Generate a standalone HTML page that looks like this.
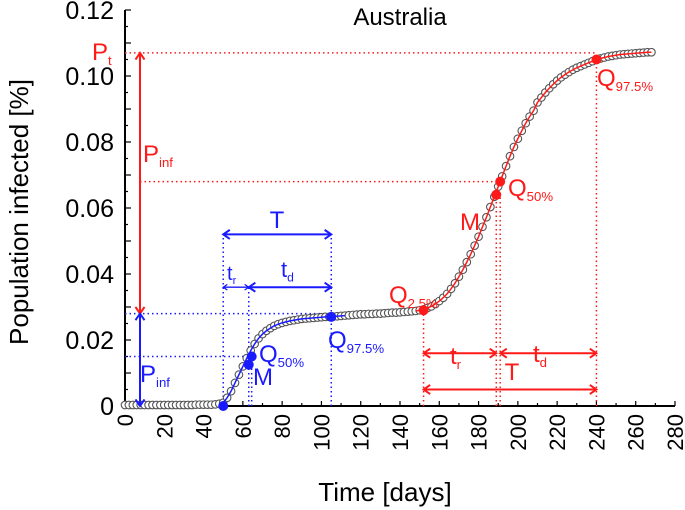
<!DOCTYPE html>
<html><head><meta charset="utf-8"><style>
body{margin:0;background:#fff}
svg{display:block;font-family:"Liberation Sans",Arial,sans-serif}
</style></head><body>
<svg id="chart" width="685" height="510" viewBox="0 0 685 510"></svg>
<script>
const days=[0,2,4,6,8,10,12,14,16,18,20,22,24,26,28,30,32,34,36,38,40,42,44,46,48,50,52,54,56,58,60,62,64,66,68,70,72,74,76,78,80,82,84,86,88,90,92,94,96,98,100,102,104,106,108,110,112,114,116,118,120,122,124,126,128,130,132,134,136,138,140,142,144,146,148,150,152,154,156,158,160,162,164,166,168,170,172,174,176,178,180,182,184,186,188,190,192,194,196,198,200,202,204,206,208,210,212,214,216,218,220,222,224,226,228,230,232,234,236,238,240,242,244,246,248,250,252,254,256,258,260,262,264,266,268];
const values=[0.0003,0.0003,0.0003,0.0003,0.0003,0.0003,0.0003,0.0003,0.0003,0.0003,0.0003,0.0003,0.0003,0.0003,0.0003,0.0003,0.0003,0.0003,0.0004,0.0004,0.0004,0.0004,0.0004,0.0005,0.0007,
0.001,0.0025,0.0045,0.007,0.0095,0.012,0.0145,0.0168,0.0188,0.0205,0.0218,0.0228,0.0236,0.0243,0.0248,0.0252,0.0255,0.0258,0.026,0.0262,0.0264,0.0265,0.0266,0.0267,0.0268,0.0269,0.027,0.027,0.0271,0.0272,0.0273,0.0274,0.0275,0.0276,0.0277,0.0278,0.0278,0.0279,0.0279,0.028,0.028,0.0281,0.0282,0.0283,0.0283,0.0284,0.0285,0.0286,0.0287,0.0288,0.029,
0.0293,0.0297,0.0302,0.0309,0.0318,0.0328,0.034,0.0355,0.0372,0.0392,0.0413,0.0436,0.046,0.0486,0.0513,0.0543,0.0572,0.0603,0.0634,0.0665,0.0696,0.0727,0.0757,0.0785,0.081,0.0834,0.0857,0.0877,0.0895,
0.092,0.0935,0.095,0.0963,0.0975,0.0986,0.0996,0.1004,0.1012,0.1019,0.1025,0.103,0.1035,0.104,0.1045,0.1049,0.1053,0.1056,0.1059,0.1061,0.1063,0.1065,0.1066,0.1067,0.1068,0.1069,0.107,0.1071,0.1072,0.1072];
const xTicks=[0,20,40,60,80,100,120,140,160,180,200,220,240,260,280];
const yTicks=[0,0.02,0.04,0.06,0.08,0.10,0.12];
const yTickLabels=["0","0.02","0.04","0.06","0.08","0.10","0.12"];
const blueKeyDays=[50,63,64.5,105];
const blueKeyVals=[0,0.0125,0.015,0.027];
const redKeyDays=[152,189,191,240];
const redKeyVals=[0.029,0.064,0.068,0.105];

const X0=125,X1=675,Y0=406,Y1=10;
const sx=d=>X0+(d/280)*(X1-X0);
const sy=v=>Y0-(v/0.12)*(Y0-Y1);
const svg=document.getElementById('chart');
const NS='http://www.w3.org/2000/svg';
function mk(tag,attrs,parent){const e=document.createElementNS(NS,tag);for(const k in attrs)e.setAttribute(k,attrs[k]);(parent||svg).appendChild(e);return e;}
function txt(x,y,s,size,color,name,anchor){const t=mk('text',{x:x,y:y,'font-size':size,fill:color,'text-anchor':anchor||'start'});t.textContent=s;


return t;}
function sub(x,y,main,subs,size,color,name){const t=mk('text',{x:x,y:y,'font-size':size,fill:color});


const a=mk('tspan',{},t);a.textContent=main;const b=mk('tspan',{'font-size':size*0.55,dy:size*0.2},t);b.textContent=subs;return t;}
function dot(x1,y1,x2,y2,c,name){const l=mk('line',{x1,y1,x2,y2,stroke:c,'stroke-width':1.5,'stroke-dasharray':'1.5 3'});

}
function arrow(x1,y1,x2,y2,c,name,w,hs){w=w||2;hs=hs||8;const g=mk('g',{});


mk('line',{x1,y1,x2,y2,stroke:c,'stroke-width':w},g);
const ang=Math.atan2(y2-y1,x2-x1);
[[x1,y1,ang+Math.PI],[x2,y2,ang]].forEach(([x,y,a])=>{
const p1=[x-hs*Math.cos(a-0.6),y-hs*Math.sin(a-0.6)],p2=[x-hs*Math.cos(a+0.6),y-hs*Math.sin(a+0.6)];
mk('polyline',{points:`${p1} ${x},${y} ${p2}`,fill:'none',stroke:c,'stroke-width':w},g);});}

// axes
const ax=mk('g',{});


mk('line',{x1:X0,y1:Y1,x2:X0,y2:Y0,stroke:'#000','stroke-width':2},ax);
mk('line',{x1:X0,y1:Y0,x2:X1,y2:Y0,stroke:'#000','stroke-width':2},ax);
for(let d=0;d<=280;d+=10){mk('line',{x1:sx(d),y1:Y0,x2:sx(d),y2:Y0-(d%20?3:5),stroke:'#000','stroke-width':1.2},ax);}
for(let v=0;v<=0.1201;v+=0.005){mk('line',{x1:X0,y1:sy(v),x2:X0+(Math.round(v*1000)%10?3:6),y2:sy(v),stroke:'#000','stroke-width':1.2},ax);}
xTicks.forEach(d=>{const t=mk('text',{transform:`translate(${sx(d)+8},414) rotate(-90)`,'font-size':22,'text-anchor':'end',fill:'#000'});t.textContent=d;

});
yTicks.forEach((v,i)=>{txt(114,sy(v)+9,yTickLabels[i],25,'#000','y-tick-label','end');});
txt(400,25,'Australia',24,'#000','chart-title','middle');
txt(385,501,'Time [days]',26,'#000','x-axis-title','middle');
const yt=mk('text',{transform:'translate(28,212) rotate(-90)','font-size':26,'text-anchor':'middle',fill:'#000'});yt.textContent='Population infected [%]';



// reference lines
const R='#ff1a1a',B='#1a1aff';
dot(X0,sy(0.107),sx(240),sy(0.107),R,'pt-line');
dot(140,sy(0.068),sx(191),sy(0.068),R,'red-half-line');
dot(X0,sy(0.028),sx(152),sy(0.028),B,'blue-plateau-line');
dot(X0,sy(0.015),sx(64.5),sy(0.015),B,'blue-half-line');
dot(sx(50),Y0,sx(50),sy(0.052),B,'blue-start-line');
dot(sx(63),Y0,sx(63),sy(0.036),B,'blue-m-line');
dot(sx(64.5),Y0,sx(64.5),sy(0.015),B,'blue-q50-line');
dot(sx(105),Y0,sx(105),sy(0.052),B,'blue-end-line');
dot(sx(152),Y0,sx(152),sy(0.029),R,'red-start-line');
dot(sx(189),Y0,sx(189),sy(0.064),R,'red-m-line');
dot(sx(191),Y0,sx(191),sy(0.068),R,'red-q50-line');
dot(sx(240),Y0,sx(240),sy(0.105),R,'red-end-line');

// data circles
const dg=mk('g',{});


days.forEach((d,i)=>{const c=mk('circle',{cx:sx(d),cy:sy(values[i]),r:3.8,fill:'#fff',stroke:'#555','stroke-width':1.1},dg);

});
// fitted lines
const bp=[],rp=[];
days.forEach((d,i)=>{if(d>=48&&d<=112)bp.push(sx(d)+','+sy(values[i]));if(d>=148)rp.push(sx(d)+','+sy(values[i]));});
const bl=mk('polyline',{points:bp.join(' '),fill:'none',stroke:B,'stroke-width':1.5});


const rl=mk('polyline',{points:rp.join(' '),fill:'none',stroke:R,'stroke-width':1.5});


blueKeyDays.forEach((d,i)=>{const c=mk('circle',{cx:sx(d),cy:sy(blueKeyVals[i]),r:5,fill:B});

});
redKeyDays.forEach((d,i)=>{const c=mk('circle',{cx:sx(d),cy:sy(redKeyVals[i]),r:5,fill:R});

});

// arrows
arrow(140,sy(0.107),140,sy(0.028),R,'red-pinf-arrow');
arrow(140,sy(0.028),140,Y0,B,'blue-pinf-arrow');
arrow(sx(50),sy(0.052),sx(105),sy(0.052),B,'blue-T-arrow');
arrow(sx(50),sy(0.036),sx(63),sy(0.036),B,'blue-tr-arrow',1.3,5);
arrow(sx(63),sy(0.036),sx(105),sy(0.036),B,'blue-td-arrow');
arrow(sx(152),sy(0.016),sx(189),sy(0.016),R,'red-tr-arrow');
arrow(sx(191),sy(0.016),sx(240),sy(0.016),R,'red-td-arrow');
arrow(sx(152),sy(0.005),sx(240),sy(0.005),R,'red-T-arrow');

// labels
sub(92,60,'P','t',24,R,'pt-label');
sub(143,162,'P','inf',24,R,'red-pinf-label');
sub(140,382,'P','inf',24,B,'blue-pinf-label');
txt(277,228,'T',24,B,'blue-T-label','middle');
sub(227,280,'t','r',20,B,'blue-tr-label');
sub(281,277,'t','d',22,B,'blue-td-label');
sub(259,362,'Q','50%',24,B,'blue-q50-label');
txt(253,385,'M',24,B,'blue-m-label');
sub(328,348,'Q','97.5%',24,B,'blue-q975-label');
sub(389,303,'Q','2.5%',24,R,'red-q25-label');
sub(450,364,'t','r',24,R,'red-tr-label');
sub(533,362,'t','d',24,R,'red-td-label');
txt(512,380,'T',24,R,'red-T-label','middle');
txt(470,230,'M',24,R,'red-m-label','middle');
sub(508,196,'Q','50%',24,R,'red-q50-label');
sub(597,86,'Q','97.5%',24,R,'red-q975-label');
</script>
</body></html>
